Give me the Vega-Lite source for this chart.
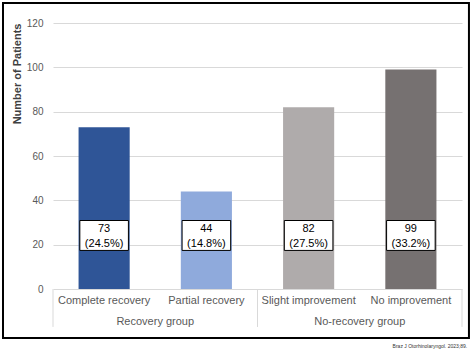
{
  "$schema": "https://vega.github.io/schema/vega-lite/v6.json",
  "width": 409,
  "height": 266,
  "autosize": "none",
  "padding": {"left": 53, "top": 23, "right": 12, "bottom": 64},
  "background": "white",
  "config": {"font": "Liberation Sans", "view": {"stroke": null}},
  "datasets": {
    "patients": [
      {"category": "Complete recovery", "group": "Recovery group", "count": 73, "label": "73\n(24.5%)"},
      {"category": "Partial recovery", "group": "Recovery group", "count": 44, "label": "44\n(14.8%)"},
      {"category": "Slight improvement", "group": "No-recovery group", "count": 82, "label": "82\n(27.5%)"},
      {"category": "No improvement", "group": "No-recovery group", "count": 99, "label": "99\n(33.2%)"}
    ],
    "groups": [{"group": "Recovery group"}, {"group": "No-recovery group"}],
    "frame": [{}]
  },
  "layer": [
    {
      "data": {"name": "patients"},
      "encoding": {
        "x": {
          "field": "category", "type": "nominal", "sort": null,
          "scale": {"paddingInner": 0.5, "paddingOuter": 0.25},
          "axis": {"title": null, "labelAngle": 0, "domain": false, "ticks": false, "grid": false, "labelPadding": 5, "labelFontSize": 11, "labelColor": "#595959"}
        }
      },
      "layer": [
        {
          "mark": {"type": "bar"},
          "encoding": {
            "y": {
              "field": "count", "type": "quantitative",
              "scale": {"domain": [0, 120], "nice": false},
              "axis": {"title": "Number of Patients", "values": [0, 20, 40, 60, 80, 100, 120], "grid": true, "gridColor": "#d9d9d9", "domain": false, "ticks": false, "labelPadding": 10, "labelFontSize": 10, "labelColor": "#595959", "titleFontSize": 11, "titleFontWeight": "bold", "titleColor": "#404040", "titleAnchor": "end", "titlePadding": 4}
            },
            "color": {
              "field": "category", "type": "nominal", "sort": null,
              "scale": {"domain": ["Complete recovery", "Partial recovery", "Slight improvement", "No improvement"], "range": ["#2F5597", "#8FAADC", "#AFABAB", "#767171"]},
              "legend": null
            }
          }
        },
        {
          "mark": {"type": "bar", "fill": "white", "stroke": "black", "strokeWidth": 1, "width": {"band": 0.95}},
          "encoding": {
            "y": {"datum": 30.9, "type": "quantitative", "scale": {"domain": [0, 120], "nice": false}},
            "y2": {"datum": 17.4}
          }
        },
        {
          "mark": {"type": "text", "lineBreak": "\n", "fontSize": 11, "lineHeight": 14.5, "color": "black", "baseline": "middle"},
          "encoding": {
            "y": {"datum": 26.9, "type": "quantitative", "scale": {"domain": [0, 120], "nice": false}},
            "text": {"field": "label"}
          }
        }
      ]
    },
    {
      "data": {"name": "groups"},
      "layer": [
        {
          "mark": {"type": "text", "fontSize": 11, "color": "#595959", "baseline": "middle"},
          "encoding": {
            "x": {"field": "group", "type": "nominal", "sort": null, "bandPosition": 0.5, "scale": {"paddingInner": 0, "paddingOuter": 0}, "axis": null},
            "y": {"datum": -15, "type": "quantitative", "scale": {"domain": [0, 120], "nice": false}},
            "text": {"field": "group"}
          }
        },
        {
          "mark": {"type": "rule", "color": "#d9d9d9"},
          "encoding": {
            "x": {"field": "group", "type": "nominal", "sort": null, "bandPosition": 0, "scale": {"paddingInner": 0, "paddingOuter": 0}, "axis": null},
            "y": {"datum": 0, "type": "quantitative", "scale": {"domain": [0, 120], "nice": false}},
            "y2": {"datum": -17.1}
          }
        },
        {
          "mark": {"type": "rule", "color": "#d9d9d9"},
          "encoding": {
            "x": {"field": "group", "type": "nominal", "sort": null, "bandPosition": 1, "scale": {"paddingInner": 0, "paddingOuter": 0}, "axis": null},
            "y": {"datum": 0, "type": "quantitative", "scale": {"domain": [0, 120], "nice": false}},
            "y2": {"datum": -17.1}
          }
        }
      ]
    },
    {
      "data": {"name": "frame"},
      "layer": [
        {
          "mark": {"type": "rect", "filled": false, "color": "black", "stroke": "black", "strokeWidth": 2},
          "encoding": {
            "x": {"datum": -0.489, "type": "quantitative", "scale": {"domain": [0, 4], "nice": false, "zero": false}, "axis": null},
            "x2": {"datum": 4.068},
            "y": {"datum": 129, "type": "quantitative", "scale": {"domain": [0, 120], "nice": false}},
            "y2": {"datum": -22.1}
          }
        },
        {
          "mark": {"type": "text", "fontSize": 5, "color": "#333333", "align": "right", "baseline": "middle"},
          "encoding": {
            "x": {"datum": 4.05, "type": "quantitative", "scale": {"domain": [0, 4], "nice": false, "zero": false}, "axis": null},
            "y": {"datum": -25.7, "type": "quantitative", "scale": {"domain": [0, 120], "nice": false}},
            "text": {"value": "Braz J Otorhinolaryngol. 2023;89."}
          }
        }
      ]
    }
  ],
  "resolve": {"scale": {"x": "independent"}}
}
